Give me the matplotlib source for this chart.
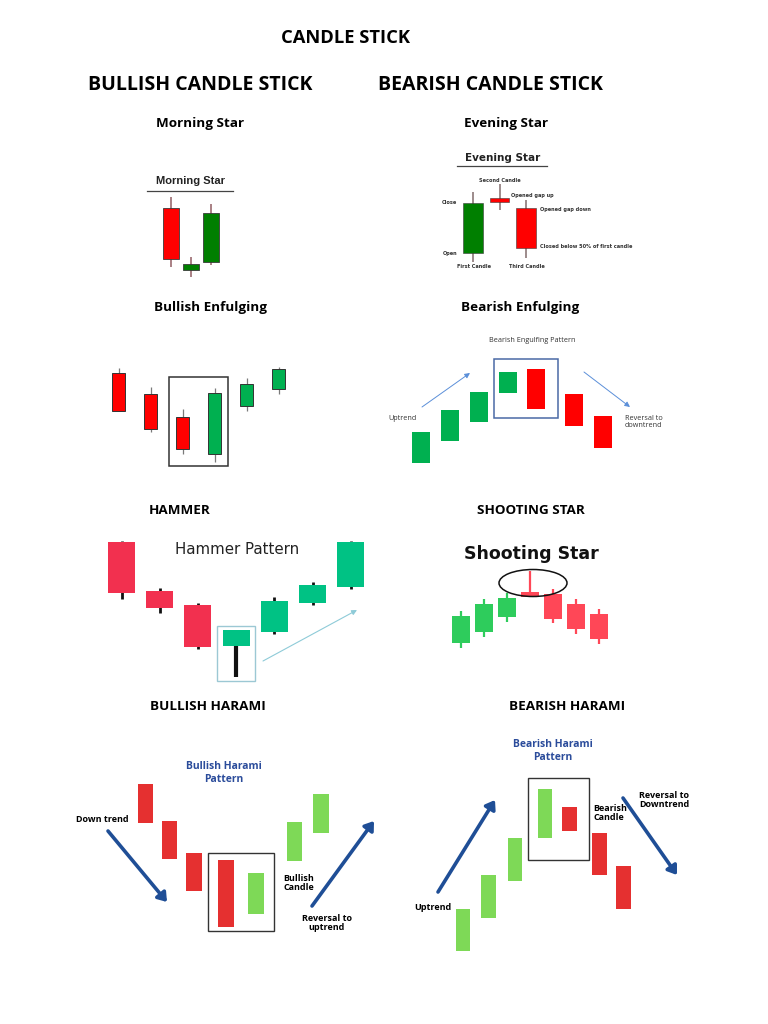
import numpy as np
import matplotlib
matplotlib.use("Agg")
import matplotlib.pyplot as plt
from matplotlib.patches import Rectangle, Ellipse

plt.rcParams["font.family"] = ["Open Sans", "DejaVu Sans"]

# ---- candle values (price units) ----
# Morning Star
ms_open = [77, 15, 23]
ms_close = [26, 21, 72]
ms_high = [88, 28, 81]
ms_low = [18, 8, 20]

# Evening Star
es_open = [17, 72, 62]
es_close = [67, 68, 22]
es_high = [78, 86, 70]
es_low = [8, 60, 12]

# Bullish engulfing
be_open = [97, 76, 53, 16, 64, 81]
be_close = [59, 41, 21, 77, 86, 101]
be_high = [102, 83, 61, 82, 92, 103]
be_low = [59, 38, 16, 8, 59, 76]

# Bearish engulfing (bodies only)
bre_open = [7, 29, 48, 77, 101, 76, 54]
bre_close = [38, 60, 78, 98, 61, 44, 22]

# Hammer
hm_open = [143, 94, 80, 39, 53, 82, 98]
hm_close = [92, 77, 38, 55, 84, 100, 143]
hm_high = [144, 97, 82, 55, 88, 103, 144]
hm_low = [86, 72, 36, 8, 51, 80, 96]

# Shooting star
ss_open = [12, 23, 38, 63, 61, 51, 41]
ss_close = [39, 51, 57, 58, 36, 26, 16]
ss_high = [44, 56, 62, 84, 66, 56, 46]
ss_low = [7, 18, 33, 58, 32, 21, 11]

# Bullish harami (bodies only)
bh_open = [156, 119, 87, 80, 26, 79, 107]
bh_close = [117, 81, 49, 13, 67, 118, 146]

# Bearish harami (bodies only)
brh_open = [9, 42, 79, 122, 153, 127, 94]
brh_close = [51, 85, 122, 171, 129, 85, 51]

W_PX, H_PX = 768, 1024
fig = plt.figure(figsize=(7.68, 10.24), dpi=100)
fig.patch.set_facecolor("white")


def panel(box, x0, step):
    # box = left, top, width, height in pixels of the page
    L, T, W, H = box
    ax = fig.add_axes([L / W_PX, 1 - (T + H) / H_PX, W / W_PX, H / H_PX])
    ax.set_xlim((L - x0) / step, (L + W - x0) / step)
    ax.set_ylim(0, H)
    ax.axis("off")
    return ax


def candles(ax, o, c, h=None, l=None, slots=None, width=0.6, up="g", down="r",
            edge=None, lw=0, wick=None, wick_lw=1.0):
    o = np.asarray(o, float)
    c = np.asarray(c, float)
    x = np.arange(len(o)) if slots is None else np.asarray(slots)
    cols = [up if cc >= oo else down for oo, cc in zip(o, c)]
    if h is not None:
        ax.vlines(x, l, h, colors=wick if wick else cols, linewidths=wick_lw, zorder=1)
    ax.bar(x, c - o, bottom=o, width=width, color=cols,
           edgecolor=edge if edge else cols, linewidth=lw, zorder=2)


# Morning star
ax = panel((140, 190, 100, 95), 171, 20)
candles(ax, ms_open, ms_close, ms_high, ms_low, width=0.78, up="#007f00", down="#ff0000",
        edge="#3a3a3a", lw=0.6, wick="#9b6b70", wick_lw=1.2)

# Evening star
ax = panel((430, 180, 140, 90), 473, 26.5)
candles(ax, es_open, es_close, es_high, es_low, width=0.75, up="#007f00", down="#ff0000",
        edge="#3a3a3a", lw=0.4, wick="#8c7878", wick_lw=1.2)

# Bullish engulfing
ax = panel((100, 360, 200, 110), 118.5, 32)
candles(ax, be_open, be_close, be_high, be_low, width=0.41, up="#00b050", down="#ff0000",
        edge="#333333", lw=0.7, wick="#7a7a7a", wick_lw=0.9)

# Bearish engulfing
ax = panel((380, 355, 260, 115), 421, 29)
candles(ax, bre_open, bre_close, slots=[0, 1, 2, 3, 3.97, 5.28, 6.28], width=0.62,
        up="#00b050", down="#ff0000")

# Hammer
ax = panel((100, 535, 275, 150), 121.5, 38.2)
candles(ax, hm_open, hm_close, hm_high, hm_low, width=0.71, up="#00c284", down="#f2304f",
        wick="#111111", wick_lw=[2, 2, 2, 3, 2, 2, 2])

# Shooting star
ax = panel((440, 565, 180, 90), 461, 23)
candles(ax, ss_open, ss_close, ss_high, ss_low, width=0.78, up="#2ecc5c", down="#ff4757",
        wick_lw=1.6)

# Bullish harami
ax = panel((100, 775, 260, 165), 145.5, 24)
candles(ax, bh_open, bh_close, slots=[0, 1, 2.02, 3.35, 4.6, 6.2, 7.31], width=0.65,
        up="#7ed957", down="#e53030")

# Bearish harami
ax = panel((440, 775, 200, 185), 463, 26)
candles(ax, brh_open, brh_close, slots=[0, 0.98, 2, 3.15, 4.1, 5.25, 6.17], width=0.56,
        up="#7ed957", down="#e53030")

# ---- overlay for headings, labels and decorations (page pixels) ----
ov = fig.add_axes([0, 0, 1, 1], zorder=5)
ov.set_xlim(0, W_PX)
ov.set_ylim(H_PX, 0)
ov.axis("off")
ov.patch.set_alpha(0)


def T(x, y, s, size, weight="bold", ha="center", color="black", **kw):
    ov.text(x, y, s, fontsize=size, fontweight=weight, ha=ha, va="center", color=color, **kw)


def arrow(p0, p1, color, lw, hw, hl):
    ov.annotate("", xy=p1, xytext=p0,
                arrowprops=dict(arrowstyle=f"-|>,head_width={hw},head_length={hl}",
                                color=color, lw=lw, shrinkA=0, shrinkB=0, mutation_scale=10))


T(346, 38, "CANDLE STICK", 13.2)
T(200, 85, "BULLISH CANDLE STICK", 14)
T(490, 85, "BEARISH CANDLE STICK", 14)
for x, y, s in [(200, 124, "Morning Star"), (506, 124, "Evening Star"),
                (210, 307, "Bullish Enfulging"), (520, 307, "Bearish Enfulging"),
                (180, 511, "HAMMER"), (531, 511, "SHOOTING STAR"),
                (208, 707, "BULLISH HARAMI"), (567, 707, "BEARISH HARAMI")]:
    T(x, y, s, 9.7)

# morning / evening star inset titles
T(190, 181, "Morning Star", 8, family=["Liberation Sans"], color="#222222")
ov.plot([147, 233], [191, 191], color="#444444", lw=0.9)
T(503, 158, "Evening Star", 7.5, family=["DejaVu Sans"], color="#222222")
ov.plot([457, 547], [166, 166], color="#444444", lw=0.9)
small = dict(size=3.6, color="#333333", family=["DejaVu Sans"])
T(500, 180, "Second Candle", **small)
T(511, 195, "Opened gap up", ha="left", **small)
T(442, 203, "Close", ha="left", **small)
T(540, 209, "Opened gap down", ha="left", **small)
T(540, 247, "Closed below 50% of first candle", ha="left", **small)
T(443, 253, "Open", ha="left", **small)
T(474, 266, "First Candle", **small)
T(527, 266, "Third Candle", **small)

# engulfing
ov.add_patch(Rectangle((169, 377), 59, 89, fill=False, ec="#333333", lw=1.1))
T(532, 340, "Bearish Engulfing Pattern", 5.2, weight="normal", color="#333333")
ov.add_patch(Rectangle((494, 359), 64, 59, fill=False, ec="#4a6aa5", lw=1.1))
arrow((422, 407), (470, 373), "#5b8fd9", 0.7, 0.15, 0.3)
arrow((584, 372), (630, 407), "#5b8fd9", 0.7, 0.15, 0.3)
T(388, 418, "Uptrend", 5.2, weight="normal", ha="left", color="#333333")
T(625, 422, "Reversal to\ndowntrend", 5.2, weight="normal", ha="left", color="#333333",
  linespacing=1.1)

# hammer / shooting star
T(237, 549, "Hammer Pattern", 10.8, weight="normal", family=["DejaVu Sans"], color="#222222")
ov.add_patch(Rectangle((217, 626), 38, 55, fill=False, ec="#9cc8d4", lw=1.0))
arrow((263, 661), (357, 610), "#8ecbd8", 0.8, 0.15, 0.3)
T(531, 554, "Shooting Star", 12.5, family=["DejaVu Sans"], color="#111111")
ov.add_patch(Ellipse((533, 583), 68, 27, fill=False, ec="#111111", lw=1.1))

# harami
blue = "#2b4c9b"
T(224, 773, "Bullish Harami\nPattern", 7.5, color=blue, linespacing=1.15)
ov.add_patch(Rectangle((208, 853), 66, 78, fill=False, ec="#333333", lw=1.0))
arrow((108, 831), (167, 902), "#1f4e96", 2.6, 0.35, 0.5)
arrow((312, 906), (374, 821), "#1f4e96", 2.6, 0.35, 0.5)
T(102, 819, "Down trend", 6.5)
T(283, 883, "Bullish\nCandle", 6.5, ha="left", linespacing=1.1)
T(327, 923, "Reversal to\nuptrend", 6.5, linespacing=1.1)

T(553, 751, "Bearish Harami\nPattern", 7.5, color=blue, linespacing=1.15)
ov.add_patch(Rectangle((528, 778), 61, 82, fill=False, ec="#333333", lw=1.0))
arrow((438, 892), (495, 800), "#1f4e96", 2.6, 0.35, 0.5)
arrow((623, 798), (677, 875), "#1f4e96", 2.6, 0.35, 0.5)
T(433, 908, "Uptrend", 6.5)
T(593, 813, "Bearish\nCandle", 6.5, ha="left", linespacing=1.1)
T(664, 800, "Reversal to\nDowntrend", 6.5, linespacing=1.1)

fig.savefig("out.png", dpi=100, facecolor="white")
